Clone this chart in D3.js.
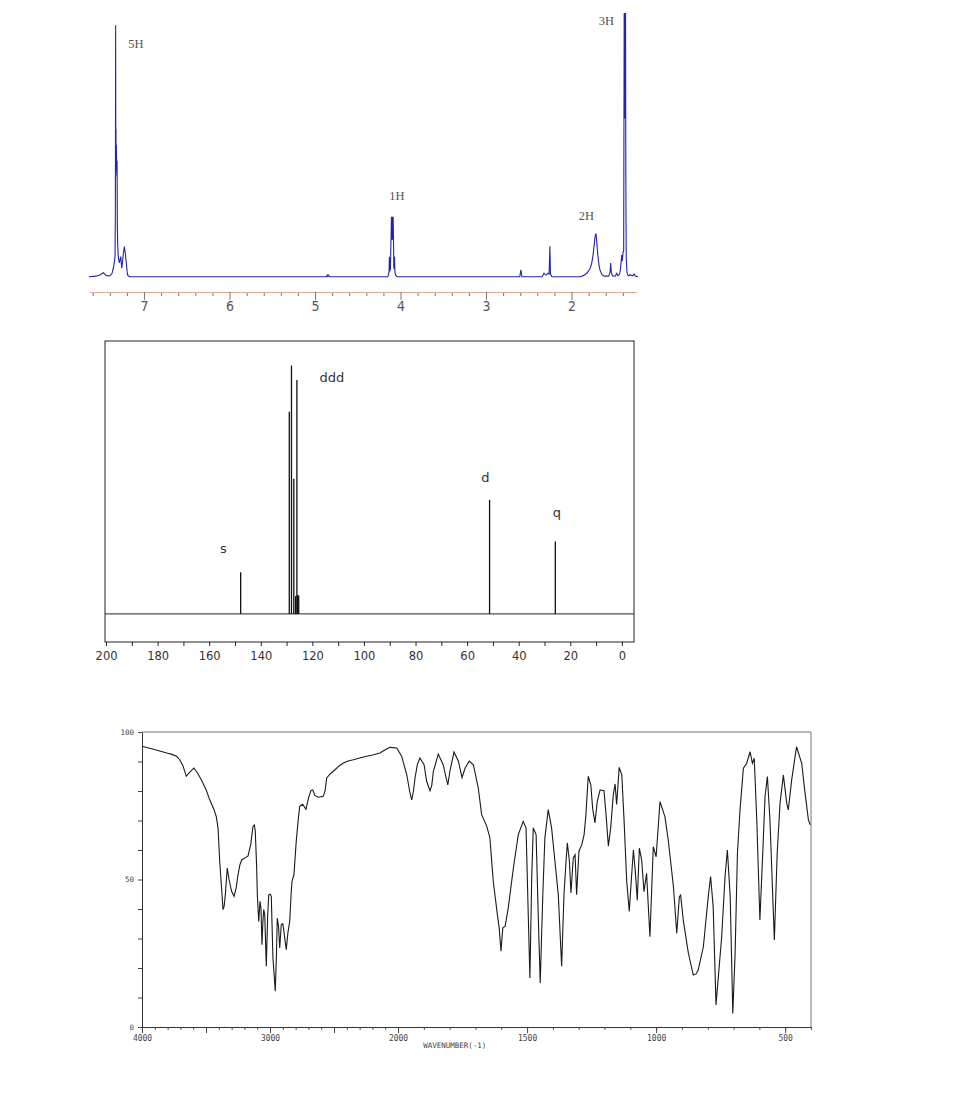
<!DOCTYPE html>
<html><head><meta charset="utf-8">
<script src="https://cdn.jsdelivr.net/npm/d3@7"></script>
<style>body{margin:0;background:#fff;} svg{display:block}</style>
</head><body>
<svg id="c" width="972" height="1103"></svg>
<script>
// ================= 1H NMR data =================
const h1Ppm = [7.645,7.560,7.515,7.490,7.476,7.460,7.444,7.420,7.398,7.375,7.359,7.345,7.339,7.335,7.332,7.330,7.328,7.326,7.324,7.321,7.318,7.315,7.312,7.308,7.301,7.289,7.280,7.272,7.261,7.250,7.242,7.236,7.230,7.224,7.218,7.207,7.198,7.191,7.170,
  4.870,4.855,4.850,4.842,4.830,
  4.150,4.142,4.134,4.130,4.126,4.118,4.106,4.100,4.096,4.092,4.086,4.078,4.070,4.066,4.058,4.040,
  2.605,2.592,2.580,
  2.345,2.330,2.322,2.310,2.298,2.286,2.275,2.262,2.253,2.246,2.230,
  1.900,1.862,1.822,1.784,1.764,1.749,1.737,1.725,1.714,1.704,1.694,1.679,1.667,1.644,1.620,
  1.565,1.550,1.542,1.534,1.520,1.490,1.471,1.460,1.449,1.439,1.427,1.413,1.406,1.398,1.390,1.384,1.380,1.376,1.372,1.368,1.365,1.360,1.351,1.340,1.328,1.315,1.304,1.285,1.269,1.255,1.222];
const h1Int = [0,0.2,0.6,1.2,1.5,1.0,0.5,0.3,0.4,1.2,3.2,6,8,25,95.4,45,56,40,50,44,38,44,20,12,7.6,5.2,6.5,7.6,3.2,6,8.8,10,11.4,10,8.8,5.1,2,0.6,0,
  0,0.6,0.1,0.6,0,
  0,0.6,2,7.6,2,3,22.7,14,22.7,14,22.7,3,7.6,2,0.6,0,
  0,2.6,0,
  0,0.8,1.3,0.9,0.6,1.0,1.3,1.0,11.5,1.0,0,
  0,0.4,1.3,3,5.1,8,11.4,15,16.4,13,8.7,4.5,2.5,0.8,0.2,
  0.2,1.5,5.2,1.5,0.3,0.2,1.3,0.4,0.5,1.0,3,8.2,6,9,10,100,60,100,60,100,40,7,1.5,0.5,0.3,0.8,0.5,0.3,1,0.3,0];
const h1TickMajor = [7,6,5,4,3,2];
const h1TickMinor = [7.6,7.4,7.2,6.8,6.6,6.4,6.2,5.8,5.6,5.4,5.2,4.8,4.6,4.4,4.2,3.8,3.6,3.4,3.2,2.8,2.6,2.4,2.2,1.8,1.6,1.4];
const h1LabelText = ["5H","1H","2H","3H"];
const h1LabelPpm = [7.094,4.041,1.825,1.591];
const h1LabelInt = [86.7,29.1,21.5,95.4];

// ================= 13C NMR data =================
const c13Shift  = [147.8, 128.95, 128.1, 127.2, 126.0, 126.5, 125.8, 125.3];
const c13Height = [15.3, 74.1, 91.0, 49.5, 85.7, 6.5, 6.8, 6.8];
const c13Shift2  = [51.3, 25.8];
const c13Height2 = [41.8, 26.5];
const c13LabelText = ["s","ddd","d","q"];
const c13LabelShift = [154.5,112.4,52.9,25.2];
const c13LabelHeight = [22.3,85,48.4,35.5];
const c13Ticks = [200,190,180,170,160,150,140,130,120,110,100,90,80,70,60,50,40,30,20,10,0];
const c13TickLabels = [200,180,160,140,120,100,80,60,40,20,0];

// ================= IR data =================
const irWavenumber = [4000,3940,3875,3800,3771,3730,3705,3680,3654,3625,3594,3565,3537,3500,3471,3440,3420,3406,3393,3375,3367,3358,3349,3334,3320,3300,3281,3265,3250,3235,3219,3190,3172,3150,3133,3122,3115,3105,3099,3088,3078,3070,3063,3055,3049,3041,3029,3018,3010,2998,2990,2977,2968,2959,2950,2943,2933,2924,2912,2900,2893,2873,2860,2846,2835,2828,2813,2795,2780,2768,2745,2719,2700,2680,2666,2650,2623,2584,2570,2557,2530,2505,2460,2427,2390,2349,2300,2245,2190,2141,2100,2063,2010,
  1986,1966,1955,1947,1940,1934,1925,1915,1899,1889,1876,1869,1863,1844,1825,1815,1807,1799,1783,1766,1752,1740,1724,1708,1689,1676,1656,1644,1631,1615,1608,1601,1594,1585,1573,1553,1534,1515,1504,1495,1489,1482,1476,1465,1456,1449,1439,1431,1418,1405,1392,1379,1366,1357,1349,1344,1336,1330,1321,1314,1308,1299,1288,1279,1272,1263,1253,1246,1237,1228,1217,1202,1194,1185,1176,1166,1159,1153,1143,1133,1124,1114,1104,1096,1088,1080,1073,1065,1056,1047,1037,1024,1011,1000,985,966,953,933,920,910,905,895,875,856,845,837,817,798,789,779,768,759,746,733,724,713,703,694,685,675,662,649,636,627,620,610,598,587,578,569,559,542,531,520,507,494,488,475,456,436,423,410,403];
const irTransmittance = [95.2,94.5,93.7,92.8,92.5,91.8,90.6,88.5,85,86.5,87.8,86,83.8,80.5,77,74,71.4,67.5,56.2,45,39.8,41,44.8,53.9,50,46,44.3,47,51.6,55,56.7,57.5,57.9,62,68,68.5,66.3,55,44.8,35.8,42.6,40,27.9,36,39.8,38,20.6,38,44.8,45,44.3,23.4,18,12.1,24,36.9,34,26.8,34.7,35,33,26.2,32,35.8,45,49.4,51.6,63,70,74.8,75.5,73.8,77.5,80.2,80.4,78.5,77.9,78.2,80,84.4,85.8,86.7,88.5,89.5,90.2,90.6,91.2,91.8,92.3,92.9,94,94.8,94.6,
  91.8,85.5,80,77,80,84.4,89,91.2,88.9,83.3,80.1,82,86.7,92.5,88.9,85,82.1,86.7,93.2,90.1,84.5,87.8,90.1,88.9,81,72,68,64.1,49.4,38.1,33.6,25.7,33.6,34.1,40.3,53.9,65.2,69.7,67.5,36.9,16.6,50.5,67.5,65.2,35.8,14.9,44.8,64.1,73.7,67.5,56.2,44.8,20.6,44.8,56.2,62.4,56.2,45.4,57.3,58.4,44.8,59.6,61.8,65.2,72,85,82.1,74.2,69.2,76.5,80.4,80.1,72,61.3,67.5,78.7,82.4,75.4,88,85.5,69.7,49.4,39.2,50,60,52,43,60.6,56.6,45.9,52.1,30.6,61.1,57.7,76.4,71.3,63.4,47.6,31.8,44.2,44.7,36.3,25,17.6,18,19.3,27.2,44.2,51,40.8,7.5,17,30.6,51,60,44.2,4.6,25,58.9,73.6,87.7,89.4,93.3,89.4,91.1,70.2,36.3,58.9,78.2,84.9,70.2,29.5,58.9,75.8,85.4,75.8,73.6,83.7,95,89.4,79.2,70.2,68.5];
const irTickLabels = [4000,3000,2000,1500,1000,500];
const irYTicks = [0,10,20,30,40,50,60,70,80,90,100];
const irYTickLabels = [100,50,0];
const irXLabel = "WAVENUMBER(-1)";

// ================= drawing =================
const svg = d3.select("#c");

// ---- 1H panel ----
const x1 = d3.scaleLinear().domain([7.64, 1.24]).range([89.3, 636.5]);
const y1 = d3.scaleLinear().domain([0, 100]).range([276.7, 13]);
const g1 = svg.append("g");
const h1Data = h1Ppm.map((p, i) => [p, h1Int[i]]);
g1.append("path").datum(h1Data)
  .attr("d", d3.line().x(d => x1(d[0])).y(d => y1(d[1])))
  .attr("fill", "none").attr("stroke", "#2424a8").attr("stroke-width", 1.1);

const ax1min = g1.append("g").attr("transform", "translate(0,292)")
  .call(d3.axisBottom(x1).tickValues(h1TickMinor).tickSize(4).tickSizeOuter(0).tickFormat(""));
ax1min.select(".domain").attr("stroke", "#e4a898");
ax1min.selectAll(".tick line").attr("stroke", "#8a7068");
const ax1 = g1.append("g").attr("transform", "translate(0,292)")
  .call(d3.axisBottom(x1).tickValues(h1TickMajor).tickSize(8).tickSizeOuter(0).tickPadding(3).tickFormat(d3.format("d")));
ax1.select(".domain").attr("stroke", "#e4a898");
ax1.selectAll(".tick line").attr("stroke", "#8a7068");
ax1.selectAll(".tick text").attr("fill", "#555").attr("dy", "0.6em")
  .style("font-family", "'Liberation Sans Narrow','DejaVu Sans Condensed',sans-serif").style("font-size", "14px");

g1.selectAll("text.lab").data(h1LabelText).join("text").attr("class", "lab")
  .attr("x", (d, i) => x1(h1LabelPpm[i])).attr("y", (d, i) => y1(h1LabelInt[i]))
  .attr("text-anchor", "middle").attr("fill", "#555")
  .style("font-family", "'Liberation Serif','DejaVu Serif',serif").style("font-size", "12.5px")
  .text(d => d);

// ---- 13C panel ----
const x13 = d3.scaleLinear().domain([200.4, -4.7]).range([105, 634]);
const y13 = d3.scaleLinear().domain([-10.3, 100]).range([642, 341]);
const g2 = svg.append("g");
g2.append("rect").attr("x", x13(200.4)).attr("y", y13(100)).attr("width", x13(-4.7) - x13(200.4)).attr("height", y13(-10.3) - y13(100))
  .attr("fill", "none").attr("stroke", "#222").attr("stroke-width", 1);
g2.append("line").attr("x1", x13(200.4)).attr("x2", x13(-4.7)).attr("y1", y13(0)).attr("y2", y13(0))
  .attr("stroke", "#222").attr("stroke-width", 1);
const sticks = c13Shift.map((s, i) => [s, c13Height[i]]).concat(c13Shift2.map((s, i) => [s, c13Height2[i]]));
g2.selectAll("line.stick").data(sticks).join("line").attr("class", "stick")
  .attr("x1", d => x13(d[0])).attr("x2", d => x13(d[0]))
  .attr("y1", y13(0)).attr("y2", d => y13(d[1]))
  .attr("stroke", "#111").attr("stroke-width", 1.3);
const ax13 = g2.append("g").attr("transform", `translate(0,${y13(-10.3)})`)
  .call(d3.axisBottom(x13).tickValues(c13Ticks).tickSize(4).tickSizeOuter(0).tickPadding(6)
    .tickFormat(d => c13TickLabels.includes(d) ? d : ""));
ax13.select(".domain").remove();
ax13.selectAll(".tick line").attr("stroke", "#222");
ax13.selectAll(".tick text").attr("fill", "#333")
  .style("font-family", "'DejaVu Sans',sans-serif").style("font-size", "11.5px");
g2.selectAll("text.lab").data(c13LabelText).join("text").attr("class", "lab")
  .attr("x", (d, i) => x13(c13LabelShift[i])).attr("y", (d, i) => y13(c13LabelHeight[i]))
  .attr("text-anchor", "middle").attr("fill", "#333")
  .style("font-family", "'DejaVu Sans',sans-serif").style("font-size", "13px")
  .text(d => d);

// ---- IR panel ----
const xi = d3.scaleLinear().domain([4000, 2000, 400]).range([142, 398, 811]);
const yi = d3.scaleLinear().domain([0, 100]).range([1027, 732]);
const g3 = svg.append("g");
g3.append("path").attr("d", `M${xi(4000)},${yi(100)}H${xi(400)}V${yi(0)}`)
  .attr("fill", "none").attr("stroke", "#777").attr("stroke-width", 1);
const irData = irWavenumber.map((w, i) => [w, irTransmittance[i]]);
g3.append("path").datum(irData)
  .attr("d", d3.line().x(d => xi(d[0])).y(d => yi(d[1])))
  .attr("fill", "none").attr("stroke", "#1a1a1a").attr("stroke-width", 1.1);

const irMinor = d3.range(4000, 399, -100);
const irMajor = [4000, 3500, 3000, 2500, 2000, 1500, 1000, 500];
const axIrMin = g3.append("g").attr("transform", `translate(0,${yi(0)})`)
  .call(d3.axisBottom(xi).tickValues(irMinor).tickSize(3).tickSizeOuter(0).tickFormat(""));
axIrMin.select(".domain").attr("stroke", "#333");
axIrMin.selectAll(".tick line").attr("stroke", "#555");
const axIr = g3.append("g").attr("transform", `translate(0,${yi(0)})`)
  .call(d3.axisBottom(xi).tickValues(irMajor).tickSize(6).tickSizeOuter(0).tickPadding(2)
    .tickFormat(d => irTickLabels.includes(d) ? d : ""));
axIr.select(".domain").attr("stroke", "#333");
axIr.selectAll(".tick line").attr("stroke", "#444");
axIr.selectAll(".tick text").attr("fill", "#444")
  .style("font-family", "'DejaVu Sans Mono',monospace").style("font-size", "8px");
const axIrY = g3.append("g").attr("transform", `translate(${xi(4000)},0)`)
  .call(d3.axisLeft(yi).tickValues(irYTicks).tickSize(4).tickSizeOuter(0).tickPadding(4)
    .tickFormat(d => irYTickLabels.includes(d) ? d : ""));
axIrY.select(".domain").attr("stroke", "#333");
axIrY.selectAll(".tick line").attr("stroke", "#444");
axIrY.selectAll(".tick text").attr("fill", "#444")
  .style("font-family", "'DejaVu Sans Mono',monospace").style("font-size", "7.5px");
g3.append("text").attr("x", xi(1780)).attr("y", 1048).attr("text-anchor", "middle")
  .attr("fill", "#444").style("font-family", "'DejaVu Sans Mono',monospace").style("font-size", "7.5px")
  .text(irXLabel);
</script>
</body></html>
